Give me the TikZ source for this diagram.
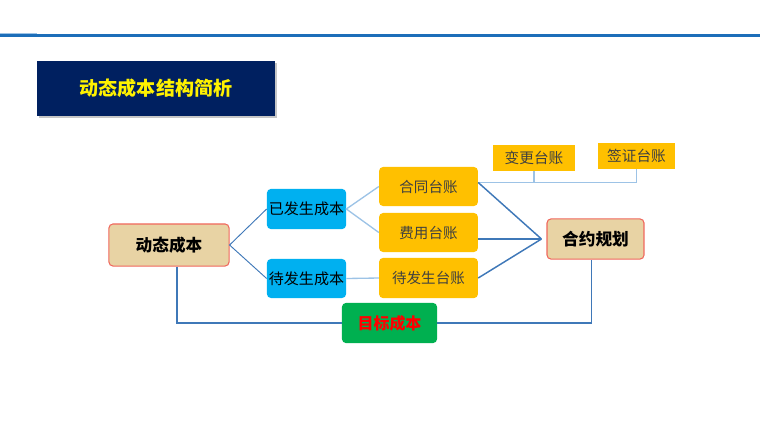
\documentclass[tikz,border=0pt]{standalone}
\usepackage{fontspec}
\newfontfamily\cjk{Noto Sans CJK SC}
\usetikzlibrary{shadows,calc}
\definecolor{navy}{HTML}{002060}
\definecolor{paper}{HTML}{E8D3A4}
\definecolor{paperline}{HTML}{F0675C}
\definecolor{skyfill}{HTML}{00B0F0}
\definecolor{gold}{HTML}{FFC000}
\definecolor{leaf}{HTML}{00B050}
\definecolor{linkdark}{HTML}{3F78B8}
\definecolor{linklight}{HTML}{9DC3E6}
\definecolor{topline}{HTML}{1C6EB9}
\begin{document}
\begin{tikzpicture}[
        x=0.0264cm, y=-0.0264cm,
        paper/.style={
          draw=paperline,
          line width=0.8pt,
          fill=paper,
          rounded corners=3pt,
          inner sep=0pt,
          font=\cjk\bfseries\fontsize{12.5}{14}\selectfont
        },
        cost/.style={
          fill=skyfill,
          rounded corners=3pt,
          inner sep=0pt,
          minimum width=2.09cm,
          font=\cjk\fontsize{11.3}{13}\selectfont
        },
        ledger/.style={
          fill=gold,
          rounded corners=3pt,
          inner sep=0pt,
          minimum width=2.61cm,
          text=black!75,
          font=\cjk\fontsize{10.9}{13}\selectfont
        },
        note/.style={
          fill=gold,
          inner sep=0pt,
          minimum height=0.69cm,
          text=black!75,
          font=\cjk\fontsize{11}{13}\selectfont
        },
        thinlink/.style={draw=linkdark, line width=0.7pt},
        lightlink/.style={draw=linklight, line width=1pt},
        planlink/.style={draw=linkdark, line width=1.1pt},
        looplink/.style={draw=linkdark, line width=1.3pt}
      ]
      \useasboundingbox (0,0) rectangle (760,426);

      % top rule
      \draw[topline, line width=2.4pt] (0,35.5) -- (760,35.5);
      \draw[linklight, line width=0.8pt] (0,33.5) -- (37,33.5);

      \node[fill=navy, minimum width=6.28cm, minimum height=1.45cm,
        drop shadow={opacity=0.45, shadow xshift=1.5pt, shadow yshift=-1.5pt},
        text=yellow, font=\cjk\bfseries\fontsize{14.3}{16}\selectfont]
        (title) at (156,88.5) {动态成本结构简析};

      \node[paper, minimum width=3.17cm, minimum height=1.11cm] (dyn) at (169,245) {动态成本};
      \node[cost, minimum height=1.06cm] (occurred) at (306.5,209) {已发生成本};
      \node[cost, minimum height=1.03cm] (pending) at (306.5,278.5) {待发生成本};

      \node[ledger, minimum height=1.03cm] (contract) at (428.5,186.5) {合同台账};
      \node[ledger, minimum height=1.03cm] (expense) at (428.5,232.5) {费用台账};
      \node[ledger, minimum height=1.06cm] (pendledger) at (428.5,278) {待发生台账};

      \node[note, minimum width=2.16cm] (change) at (534,158) {变更台账};
      \node[note, minimum width=2.03cm] (visa) at (636.5,156) {签证台账};

      \node[paper, minimum width=2.56cm, minimum height=1.06cm] (plan) at (595.5,239) {合约规划};
      \node[fill=leaf, rounded corners=3pt, minimum width=2.51cm, minimum height=1.06cm,
        text=red, font=\cjk\bfseries\fontsize{12}{14}\selectfont]
        (target) at (389.5,323) {目标成本};

      \coordinate (meet) at ($(plan.west)+(-5,0)$);
      \coordinate (ctop) at ($(contract.east)+(0,-4)$);

      \draw[thinlink] (occurred.west) -- (dyn.east) -- (pending.west);
      \draw[lightlink] (contract.west) -- (occurred.east) -- (expense.west);
      \draw[lightlink] (pending.east) -- (pendledger.west);
      \draw[lightlink] (ctop) -- (visa.south |- ctop);
      \draw[lightlink] (change.south) -- (change.south |- ctop);
      \draw[lightlink] (visa.south) -- (visa.south |- ctop);

      \draw[planlink] (ctop) -- (meet);
      \draw[planlink] (expense.east |- meet) -- (meet);
      \draw[planlink] (pendledger.east) -- (meet);

      \draw[looplink] ($(dyn.south)+(8,0)$) |- (target.west);
      \draw[looplink] (target.east) -| ($(plan.south)+(-4,0)$);
    \end{tikzpicture}
\end{document}
